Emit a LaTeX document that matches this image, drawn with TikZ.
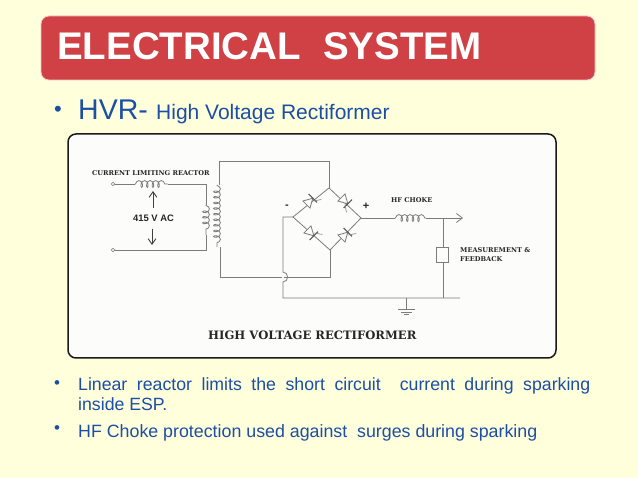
\documentclass[tikz,border=0pt]{standalone}
\usepackage{fontspec}
\setmainfont{Liberation Sans}
\newfontfamily\labelserif{DejaVu Serif}
\usetikzlibrary{decorations.pathmorphing,arrows.meta}
\definecolor{slidebg}{HTML}{FFFFDC}
\definecolor{titlered}{HTML}{CF4144}
\definecolor{bodyblue}{HTML}{1B4EA6}
\definecolor{panelbg}{HTML}{FCFCFA}
\definecolor{wirecol}{HTML}{7C7C78}
\tikzset{
  wire/.style={draw=wirecol,line width=0.8pt},
  coilwire/.style={wire,decorate,decoration={coil,aspect=0.6,segment length=5.6pt,amplitude=3.4pt,pre length=0.5pt,post length=0.5pt}},
  bluetext/.style={inner sep=0pt,anchor=base west,text=bodyblue},
  srif/.style={inner sep=0pt,anchor=base west,text=black!85,font=\labelserif\bfseries\fontsize{6.6}{9}\selectfont},
  term/.style={circle,draw=wirecol,line width=0.6pt,fill=panelbg,inner sep=0pt,minimum size=3.5pt},
  blackarrow/.style={draw=black!75,line width=0.9pt,-{Straight Barb[length=5.5pt,width=11pt,angle'=70]}},
  thy/.pic={
    \draw[wirecol,line width=0.8pt,fill=panelbg] (-5,-5) -- (-5,5) -- (4,0) -- cycle;
    \draw[wirecol!70!black,line width=1pt] (4,-6) -- (4,6);
    \draw[wirecol,line width=0.6pt] (2,2) -- (9,7);
  }
}
\begin{document}
\begin{tikzpicture}[x=1pt,y=-1pt]
\useasboundingbox (0,0) rectangle (638,478);
\fill[slidebg] (0,0) rectangle (638,478);
% title
\node[fill=titlered,draw=white!70!titlered,line width=0.8pt,rounded corners=8pt,minimum width=554pt,minimum height=64pt,inner sep=0pt] (titlebar) at (318,48) {};
\node[inner sep=0pt,anchor=base west,text=white,font=\bfseries\fontsize{38.5}{40}\selectfont] (titletext) at (57,60) {ELECTRICAL\hspace{0.3em} SYSTEM};
% subtitle
\node[bluetext,font=\fontsize{22}{24}\selectfont] (bullet1) at (54,117) {•};
\node[bluetext,font=\fontsize{28.5}{32}\selectfont] (hvr) at (78,120) {HVR-};
\node[bluetext,font=\fontsize{21}{24}\selectfont] (hvrlong) at (156,120) {High Voltage Rectiformer};
% panel
\node[fill=panelbg,draw=black!90,line width=1.5pt,rounded corners=8pt,minimum width=488pt,minimum height=224pt,inner sep=0pt] (panel) at (312,246) {};
% coordinates
\coordinate (tA) at (113,184);
\coordinate (tB) at (113,250);
\coordinate (r1) at (135,184);
\coordinate (r2) at (168,184);
\coordinate (rc) at (206,184);
\coordinate (s1) at (206,205);
\coordinate (s2) at (206,235);
\coordinate (sb) at (206,250);
\coordinate (p1) at (217,185);
\coordinate (p2) at (217,247);
\coordinate (pt) at (219,161);
\coordinate (ptr) at (329,161);
\coordinate (pb) at (220,277);
\coordinate (top) at (329,188);
\coordinate (left) at (293,217);
\coordinate (right) at (361,218);
\coordinate (bot) at (330,250);
\coordinate (botd) at (330,277);
\coordinate (la) at (283,217);
\coordinate (h1) at (283,272);
\coordinate (h2) at (283,282);
\coordinate (gl) at (283,298);
\coordinate (gr) at (460,298);
\coordinate (hf1) at (395,218);
\coordinate (hf2) at (426,218);
\coordinate (out) at (463,218);
\coordinate (j) at (443,218);
\coordinate (gj) at (443,298);
\coordinate (e) at (406,298);
\coordinate (e1) at (406,309);
% wiring
\draw[wire] (tA) -- (r1);
\draw[coilwire] (r1) -- (r2);
\draw[wire] (r2) -- (rc) -- (s1);
\draw[coilwire] (s1) -- (s2);
\draw[wire] (s2) -- (sb) -- (tB);
\node[term] (ta) at (tA) {};
\node[term] (tb) at (tB) {};
\draw[coilwire] (p1) -- (p2);
\draw[wire] (p1) ++(2,0) -- (pt) -- (ptr) -- (top);
\draw[wire] (p2) ++(3,0) -- (pb) -- (botd) -- (bot);
\draw[wire] (top) -- (left) -- (bot) -- (right) -- (top);
\draw[panelbg,line width=1.4pt] (h1) -- (h2);
\draw[wire] (left) -- (la) -- (h1) .. controls (289,272) and (289,282) .. (h2) -- (gl) -- (gr);
\draw[wire] (right) -- (hf1);
\draw[coilwire] (hf1) -- (hf2);
\draw[wire,-{Straight Barb[length=6pt,width=9pt]}] (hf2) -- (out);
\node[draw=wirecol,line width=0.8pt,fill=panelbg,minimum width=12pt,minimum height=15pt,inner sep=0pt] (meas) at (442,254.5) {};
\draw[wire] (j) -- (j |- meas.north);
\draw[wire] (j |- meas.south) -- (gj);
\draw[wire] (e) -- (e1);
\draw[wire] (398,309) -- (415,309);
\draw[wire] (401,312) -- (412,312);
\draw[wire] (404,314.5) -- (409,314.5);
% thyristors
\pic at (310,201) [rotate=45] {thy};
\pic at (345,201) [rotate=-45] {thy};
\pic at (311,233) [rotate=-45,yscale=-1] {thy};
\pic at (345,235) [rotate=45] {thy};
% arrows
\coordinate (upS) at (153,208); \coordinate (upE) at (153,191);
\coordinate (dnS) at (152,229); \coordinate (dnE) at (152,245);
\draw[blackarrow] (upS) -- (upE);
\draw[blackarrow] (dnS) -- (dnE);
% labels
\node[srif] (l1) at (92,176) {CURRENT LIMITING REACTOR};
\node[inner sep=0pt,anchor=base west,text=black!85,font=\bfseries\fontsize{9.4}{10}\selectfont] (l2) at (133,221.5) {415 V AC};
\node[inner sep=0pt,anchor=base,text=black!85,font=\bfseries\fontsize{11}{12}\selectfont] (minus) at (287,209) {-};
\node[inner sep=0pt,anchor=base,text=black!85,font=\bfseries\fontsize{11}{12}\selectfont] (plus) at (366,210) {+};
\node[srif] (l3) at (391,203) {HF CHOKE};
\node[srif] (l4) at (460,253) {MEASUREMENT \&};
\node[srif] (l5) at (460,262) {FEEDBACK};
\node[inner sep=0pt,anchor=base west,text=black!85,font=\labelserif\bfseries\fontsize{11.6}{13}\selectfont] (l6) at (208,340) {HIGH VOLTAGE RECTIFORMER};
% bottom text
\node[bluetext,font=\fontsize{17}{20}\selectfont] (b2) at (54,389) {•};
\node[inner sep=0pt,anchor=north west,text=bodyblue,text width=512pt,align=justify,font=\fontsize{17.7}{20}\selectfont] (bt) at (78,377) {Linear reactor limits the short circuit\ \ current during sparking\linebreak inside ESP.};
\node[bluetext,font=\fontsize{17}{20}\selectfont] (b3) at (54,434) {•};
\node[bluetext,font=\fontsize{17.8}{20}\selectfont] (bt2) at (78,437.5) {HF Choke protection used against\ \ surges during sparking};
\end{tikzpicture}
\end{document}
